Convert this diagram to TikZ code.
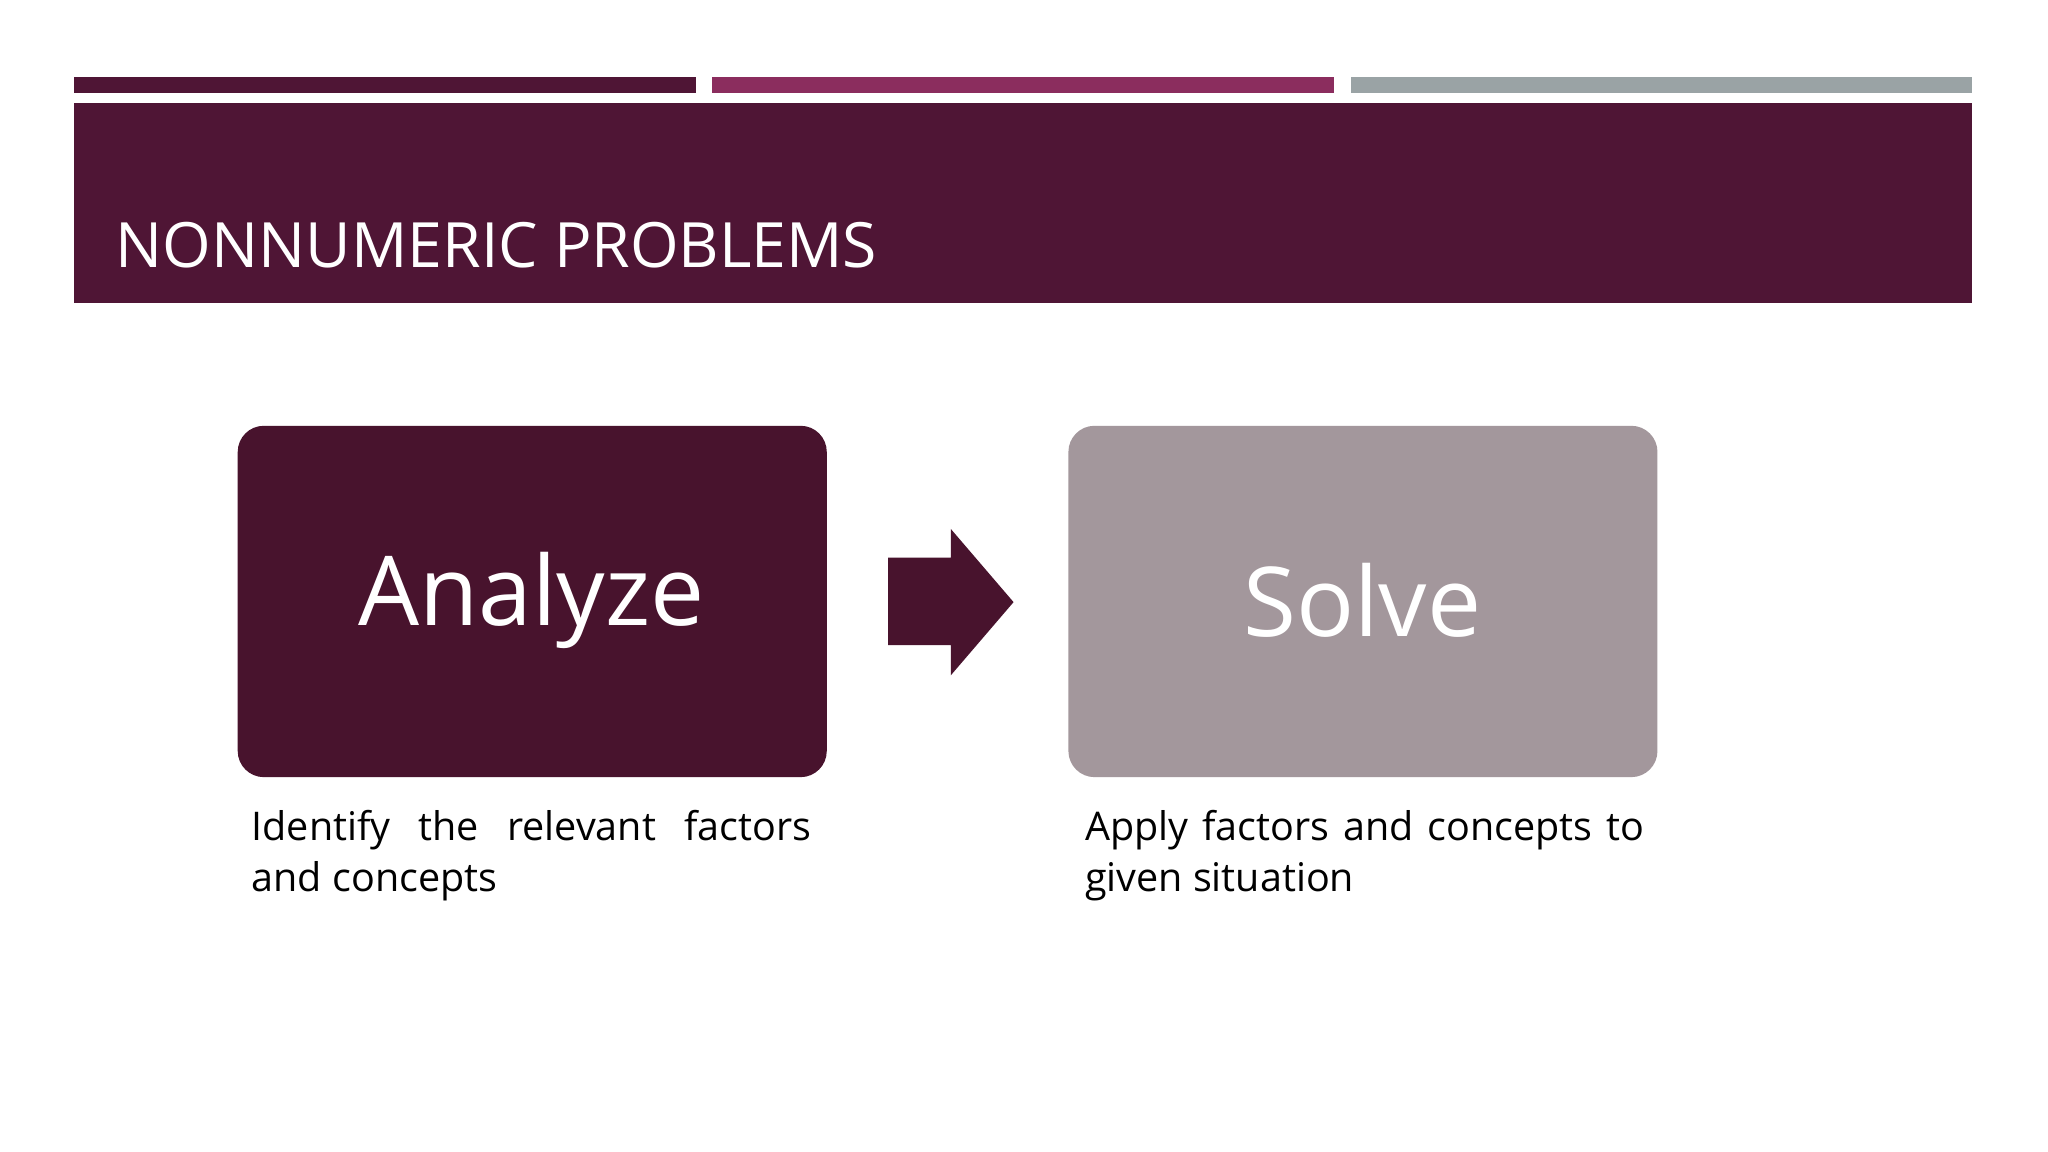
\documentclass[tikz,border=0pt]{standalone}
\usepackage{fontspec}
\setmainfont{Open Sans}
\definecolor{plum}{HTML}{4F1535}
\definecolor{plumdark}{HTML}{48132D}
\definecolor{magenta}{HTML}{8B2D5E}
\definecolor{graybar}{HTML}{9AA3A5}
\definecolor{graybox}{HTML}{A3979C}
\begin{document}
\begin{tikzpicture}[x=0.01cm,y=-0.01cm,
  boxs/.style={rounded corners=0.2cm,draw=none},
  captext/.style={anchor=north west,text width=4.28cm,align=justify,inner sep=0pt,font=\fontsize{8.6pt}{11pt}\selectfont,text=black}]
\useasboundingbox[fill=white] (0,0) rectangle (1568,882);
\fill[plum] (57,59) rectangle (533,71);
\fill[magenta] (545,59) rectangle (1021,71);
\fill[graybar] (1034,59) rectangle (1510,71);
\fill[plum] (57,79) rectangle (1510,232);
\node[anchor=base west,text=white,inner sep=0pt,font=\fontsize{13.6pt}{16pt}\selectfont] (title) at (88,205) {NONNUMERIC PROBLEMS};
\fill[plumdark,boxs] (182,326) rectangle (633,595);
\node[text=white,font=\fontsize{21pt}{24pt}\selectfont] (an) at (407,460) {Analyze};
\fill[graybox,boxs] (818,326) rectangle (1269,595);
\node[text=white,font=\fontsize{21pt}{24pt}\selectfont] (so) at (1043,460) {Solve};
\fill[plumdark] (680,427) -- (728,427) -- (728,405) -- (776,461) -- (728,517) -- (728,494) -- (680,494) -- cycle;
\node[captext] (c1) at (192,620) {Identify the relevant factors and concepts};
\node[captext] (c2) at (830,620) {Apply factors and concepts to given situation};
\end{tikzpicture}
\end{document}
